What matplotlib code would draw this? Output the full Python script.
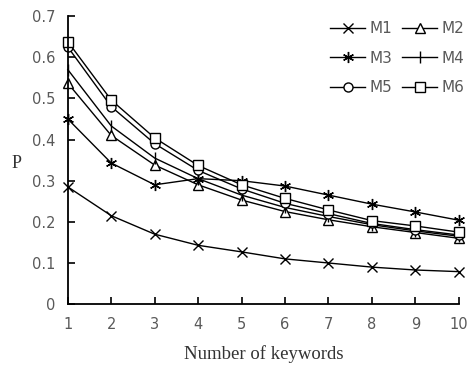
import numpy as np
import matplotlib
matplotlib.use("Agg")
import matplotlib.pyplot as plt

keywords = [1, 2, 3, 4, 5, 6, 7, 8, 9, 10]
m1 = [0.285, 0.215, 0.170, 0.143, 0.127, 0.110, 0.100, 0.090, 0.083, 0.079]
m2 = [0.537, 0.410, 0.338, 0.290, 0.253, 0.225, 0.205, 0.188, 0.174, 0.160]
m3 = [0.450, 0.343, 0.290, 0.305, 0.300, 0.287, 0.265, 0.243, 0.224, 0.204]
m4 = [0.570, 0.433, 0.355, 0.305, 0.265, 0.235, 0.213, 0.193, 0.178, 0.165]
m5 = [0.625, 0.480, 0.390, 0.325, 0.280, 0.245, 0.220, 0.196, 0.181, 0.168]
m6 = [0.638, 0.496, 0.404, 0.337, 0.290, 0.257, 0.229, 0.203, 0.190, 0.175]
names = ["M1", "M2", "M3", "M4", "M5", "M6"]
y_ticks = [0, 0.1, 0.2, 0.3, 0.4, 0.5, 0.6, 0.7]
y_labels = ["0", "0.1", "0.2", "0.3", "0.4", "0.5", "0.6", "0.7"]

series = [m1, m2, m3, m4, m5, m6]
markers = ["x", "^", (6, 2, 0), "|", "o", "s"]
sizes = [7.5, 6.5, 8, 9, 6.5, 6.5]
gray = "#595959"

fig = plt.figure(figsize=(4.74, 3.66), dpi=100)
ax = fig.add_axes([0.143, 0.169, 0.825, 0.787])

lines = []
for vals, name, mk, ms in zip(series, names, markers, sizes):
    ln, = ax.plot(keywords, vals, color="black", lw=1.0, marker=mk, ms=ms,
                  mfc="white", mec="black", mew=1.0, label=name, clip_on=False)
    lines.append(ln)

ax.set_xlim(1, 10)
ax.set_ylim(0, 0.7)
ax.set_xticks(keywords)
ax.set_yticks(y_ticks)
ax.set_yticklabels(y_labels)
for s in ["top", "right"]:
    ax.spines[s].set_visible(False)
for s in ["left", "bottom"]:
    ax.spines[s].set_linewidth(1.3)
ax.tick_params(direction="in", length=5, width=1.2, labelsize=10.5,
               labelcolor=gray, pad=9)

ax.set_xlabel("Number of keywords", family="Liberation Serif", fontsize=13.5,
              color="#333333", labelpad=10)
ax.set_ylabel("P", family="Liberation Serif", fontsize=13, color="#333333",
              rotation=0, va="center")
ax.yaxis.set_label_coords(-0.13, 0.49)

# row-major order like the original: M1 M2 / M3 M4 / M5 M6
order = [0, 2, 4, 1, 3, 5]
leg = ax.legend([lines[i] for i in order], [names[i] for i in order],
                ncol=2, frameon=False, loc="upper right",
                bbox_to_anchor=(1.05, 1.03), fontsize=11, labelspacing=0.95,
                columnspacing=0.6, handlelength=2.3, handletextpad=0.3)
for t in leg.get_texts():
    t.set_color(gray)

fig.savefig("out.png", dpi=100)
